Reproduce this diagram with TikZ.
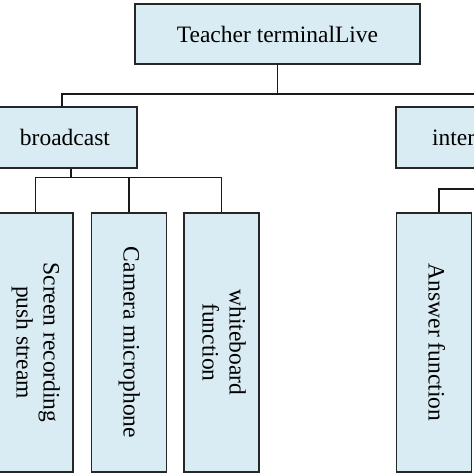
\documentclass[tikz,border=0pt]{standalone}
\usepackage{fontspec}
\setmainfont{Liberation Serif}
\usepackage{graphicx}
\usepackage{tikz}
\usetikzlibrary{calc,positioning}
\definecolor{boxblue}{RGB}{218,236,243}
\newcommand{\vtext}[1]{\rotatebox{-90}{\begin{tabular}{@{}c@{}}#1\end{tabular}}}

\begin{document}
\begin{tikzpicture}[x=1pt,y=-1pt,
  every node/.style={font=\fontsize{23.5}{27}\selectfont},
  levelbox/.style={draw=black!85,line width=1.5pt,fill=boxblue,inner sep=0pt,minimum height=61pt},
  leafbox/.style={levelbox,minimum width=75pt,minimum height=259pt},
  wire/.style={black!90,line width=1.5pt}]
  \useasboundingbox (0,0) rectangle (474,474);
  \node[levelbox,minimum width=285pt,minimum height=60pt] (root) at (277.5,34) {Teacher terminalLive};
  \node[levelbox,minimum width=144pt] (bcast) at (65,137.5) {broadcast};
  \node[levelbox,text width=128pt,align=left,inner xsep=36pt,minimum width=200pt] (inter) at (496,137.5) {inter};
  \node[leafbox] (scr) at (35.5,342.5) {\vtext{Screen recording\\push stream}};
  \node[leafbox] (cam) at (129,342.5) {\vtext{Camera microphone}};
  \node[leafbox] (wht) at (221.5,342.5) {\vtext{whiteboard\\function}};
  \node[leafbox] (ans) at (434,342.5) {\vtext{Answer function}};
  \coordinate (busA) at ($(root.south)+(0,29)$);
  \coordinate (busB) at ($([xshift=6pt]bcast.south)+(0,8.5)$);
  \coordinate (busC) at ($(inter.south)+(0,20)$);
  \draw[wire] (root.south) -- (busA);
  \draw[wire] ([xshift=-3pt]bcast.north) |- (busA) -| (inter.north);
  \draw[wire] ([xshift=6pt]bcast.south) -- (busB);
  \draw[wire] (scr.north) |- (busB) -| (wht.north);
  \draw[wire] (cam.north) -- (cam.north |- busB);
  \draw[wire] ([xshift=5pt]ans.north) |- (busC) -- (inter.south);
\end{tikzpicture}
\end{document}
